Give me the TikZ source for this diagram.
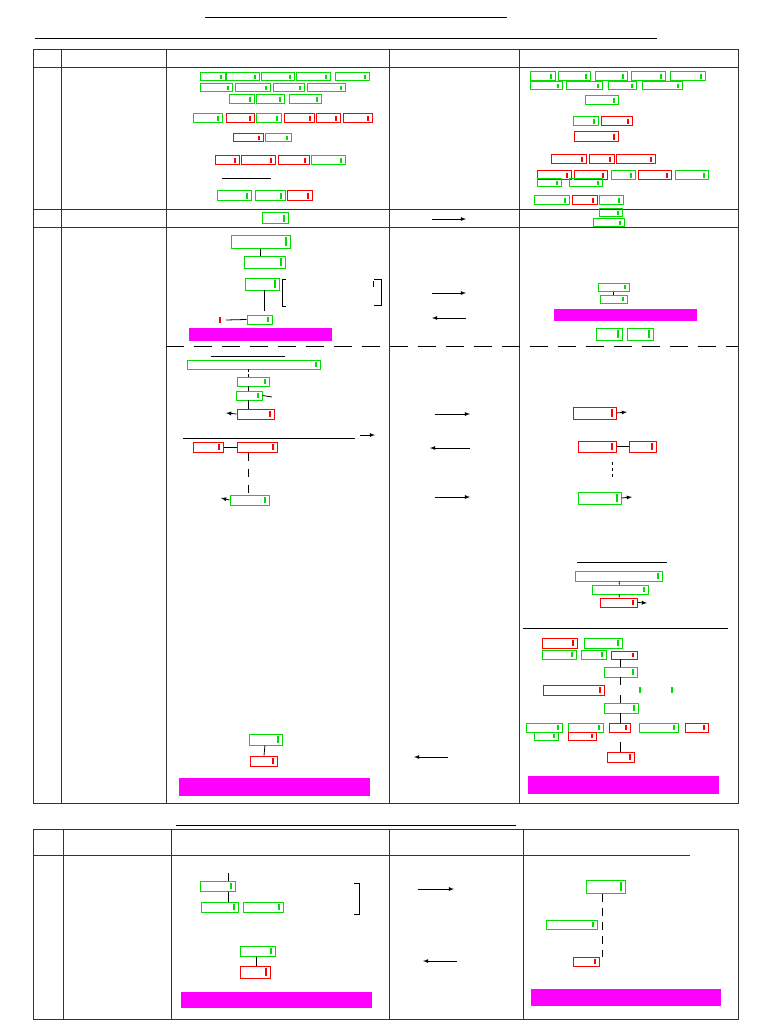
\documentclass[tikz,border=0pt]{standalone}
\definecolor{gcol}{RGB}{0,220,0}
\definecolor{rcol}{RGB}{255,0,0}
\definecolor{mcol}{RGB}{255,0,255}
\begin{document}
\begin{tikzpicture}[x=1pt,y=-1pt,
  gb/.style={draw=gcol,line width=1pt,inner sep=0pt,path picture={\draw[gcol,line width=1.2pt]([xshift=-4pt,yshift=-2pt]path picture bounding box.north east)--([xshift=-4pt,yshift=2pt]path picture bounding box.south east);}},
  rb/.style={draw=rcol,line width=1pt,inner sep=0pt,path picture={\draw[rcol,line width=1.2pt]([xshift=-4pt,yshift=-2pt]path picture bounding box.north east)--([xshift=-4pt,yshift=2pt]path picture bounding box.south east);}},
  mg/.style={fill=mcol,draw=none,inner sep=0pt},
  frame/.style={line width=1pt,black!80},
  con/.style={line width=0.8pt},
  arr/.style={line width=0.8pt,-latex},
  dsh/.style={line width=1pt,dash pattern=on 18pt off 10pt}]
\newcommand\bx[6]{\node[#1,minimum width={(#4-#2)*1pt},minimum height={(#5-#3)*1pt}] (#6) at ({(#2+#4)/2},{(#3+#5)/2}) {};}
\useasboundingbox (0,0) rectangle (768,1024);
% titles
\draw[con] (205,17)--(507,17);
\draw[con] (35,38)--(657,38);
% table 1
\draw[frame] (33,50) rectangle (738,803);
\draw[frame] (33,68)--(738,68);
\draw[frame] (33,210)--(738,210);
\draw[frame] (33,228)--(738,228);
\foreach \x in {61,166,389,519} \draw[frame] (\x,50)--(\x,803);
\draw[dsh] (166,346)--(738,346);
% row 1 col 3
\bx{gb}{200}{73}{225}{81}{a1}\bx{gb}{226}{73}{259}{81}{a2}\bx{gb}{261}{73}{294}{81}{a3}\bx{gb}{296}{73}{330}{81}{a4}\bx{gb}{335}{73}{369}{81}{a5}
\bx{gb}{200}{84}{232}{92}{a6}\bx{gb}{235}{84}{270}{92}{a7}\bx{gb}{273}{84}{304}{92}{a8}\bx{gb}{307}{84}{345}{92}{a9}
\bx{gb}{229}{95}{254}{104}{a10}\bx{gb}{256}{95}{284}{104}{a11}\bx{gb}{289}{95}{321}{104}{a12}
\bx{gb}{193}{114}{222}{123}{a13}\bx{rb}{226}{114}{254}{123}{a14}\bx{gb}{256}{114}{281}{123}{a15}\bx{rb}{284}{114}{314}{123}{a16}\bx{rb}{316}{114}{340}{123}{a17}\bx{rb}{343}{114}{372}{123}{a18}
\bx{rb}{233}{134}{263}{142}{a19}\bx{gb}{265}{134}{291}{142}{a20}
\bx{rb}{215}{156}{239}{165}{a21}\bx{rb}{241}{156}{275}{165}{a22}\bx{rb}{278}{156}{309}{165}{a23}\bx{gb}{311}{156}{345}{165}{a24}
\draw[con] (222,178)--(271,178);
\bx{gb}{217}{191}{251}{201}{a25}\bx{gb}{255}{191}{285}{201}{a26}\bx{rb}{287}{191}{312}{201}{a27}
% row 1 col 5
\bx{gb}{530}{72}{555}{81}{b1}\bx{gb}{558}{72}{590}{81}{b2}\bx{gb}{595}{72}{627}{81}{b3}\bx{gb}{631}{72}{665}{81}{b4}\bx{gb}{670}{72}{705}{81}{b5}
\bx{gb}{530}{82}{562}{90}{b6}\bx{gb}{566}{82}{602}{90}{b7}\bx{gb}{608}{82}{636}{90}{b8}\bx{gb}{642}{82}{682}{90}{b9}
\bx{gb}{585}{96}{618}{105}{b10}
\bx{gb}{573}{117}{598}{126}{b11}\bx{rb}{601}{117}{632}{126}{b12}
\bx{rb}{574}{132}{618}{142}{b13}
\bx{rb}{551}{155}{586}{164}{b14}\bx{rb}{589}{155}{614}{164}{b15}\bx{rb}{616}{155}{655}{164}{b16}
\bx{rb}{537}{171}{571}{180}{b17}\bx{rb}{574}{171}{607}{180}{b18}\bx{gb}{611}{171}{635}{180}{b19}\bx{rb}{638}{171}{671}{180}{b20}\bx{gb}{675}{171}{708}{180}{b21}
\bx{gb}{537}{179}{561}{187}{b22}\bx{gb}{569}{179}{602}{187}{b23}
\bx{gb}{534}{196}{569}{205}{b24}\bx{rb}{572}{196}{597}{205}{b25}\bx{gb}{599}{196}{623}{205}{b26}
% row 2
\bx{gb}{262}{213}{288}{224}{c1}
\coordinate (c2s) at (432,219);\coordinate (c2e) at (466,219);\draw[arr] (c2s)--(c2e);
\bx{gb}{599}{209}{622}{217}{c3}\bx{gb}{593}{219}{624}{227}{c4}
% row 3 upper col 3
\bx{gb}{231}{235}{290}{248}{d1}\bx{gb}{244}{256}{285}{268}{d2}\draw[con](d1)--(d1|-d2.north);
\bx{gb}{245}{278}{279}{290}{d3}
\draw[con] (286,279)--(282,279)--(282,306)--(286,306);
\draw[con] (374,279)--(381,279)--(381,305)--(374,305);
\draw[con] (373,281)--(373,287);
\bx{gb}{247}{315}{272}{324}{d4}
\draw[con] (264,290)--(264,311);
\coordinate (d5) at (226,320);\draw[con] (d4.west)--(d5);
\draw[rcol,line width=1.2pt] (220,317)--(220,323);
\bx{mg}{189}{328}{332}{341}{d6}
\coordinate (e1s) at (432,293);\coordinate (e1e) at (466,293);\draw[arr] (e1s)--(e1e);
\coordinate (e2s) at (466,318);\coordinate (e2e) at (432,318);\draw[arr] (e2s)--(e2e);
\bx{gb}{598}{283}{629}{291}{f1}\bx{gb}{600}{295}{627}{303}{f2}\draw[con](f1)--(f2);
\bx{mg}{554}{309}{697}{321}{f3}
\bx{gb}{596}{328}{622}{340}{f4}\bx{gb}{627}{328}{653}{340}{f5}
% row 3 lower
\draw[con] (211,356)--(285,356);
\bx{gb}{187}{360}{320}{369}{g1}
\bx{gb}{237}{377}{269}{386}{g2}\bx{gb}{236}{391}{262}{400}{g3}\bx{rb}{237}{409}{274}{419}{g4}
\draw[con,densely dashed] (248,369)--(248,377);\draw[con](248,386)--(248,391);\draw[con](248,400)--(248,409);
\coordinate (g3e) at (272,397);\draw[con](g3.east)--(g3e);
\coordinate (g4a) at (226,413);\draw[arr](g4.west)--(g4a);
\draw[con] (183,438)--(355,438);\draw[arr] (360,435)--(375,435);
\bx{rb}{193}{442}{223}{452}{g5}\bx{rb}{237}{442}{277}{452}{g6}\draw[con](g6.west)--(g5.east);
\bx{gb}{230}{495}{269}{505}{g7}\draw[con,dash pattern=on 8pt off 8pt](g6.south-|248,0)--(248,495);
\coordinate (g7a) at (221,498);\draw[arr](g7.west)--(g7a);
\draw[arr] (435,414)--(470,414);\draw[arr] (470,448)--(430,448);\draw[arr] (435,497)--(470,497);
\bx{rb}{573}{407}{616}{419}{h1}\coordinate (h1a) at (627,412);\draw[arr](h1.east)--(h1a);
\bx{rb}{578}{441}{616}{452}{h2}\bx{rb}{629}{441}{656}{452}{h3}\draw[con](h2)--(h3);
\bx{gb}{578}{492}{621}{504}{h4}\draw[con,dashed](612,462)--(612,478);
\coordinate (h4a) at (632,497);\draw[arr](h4.east)--(h4a);
% bottom section
\bx{gb}{249}{734}{282}{745}{k1}\bx{rb}{250}{756}{277}{766}{k2}\draw[con](k1)--(k2);
\bx{mg}{179}{778}{370}{796}{k3}
\draw[arr] (448,757)--(414,757);
\draw[con] (577,562)--(667,562);
\bx{gb}{575}{571}{662}{581}{m1}\bx{gb}{592}{585}{648}{594}{m2}\bx{rb}{600}{598}{637}{607}{m3}
\draw[con](m1)--(m2);\draw[con](m2)--(m3);\coordinate(m3a) at (647,603);\draw[arr](m3.east)--(m3a);
\draw[con] (523,628)--(728,628);
\bx{rb}{542}{638}{577}{648}{n1}\bx{gb}{584}{638}{622}{648}{n2}
\bx{gb}{542}{650}{576}{659}{n3}\bx{gb}{581}{650}{606}{659}{n4}\bx{rb}{611}{651}{637}{659}{n5}
\bx{gb}{604}{667}{637}{677}{n6}\draw[con](620,659)--(620,667);
\bx{rb}{543}{685}{604}{695}{n7}\draw[con](620,677)--(620,685);
\draw[gcol,line width=1.2pt](640,687)--(640,693);\draw[gcol,line width=1.2pt](672,687)--(672,693);
\bx{gb}{604}{703}{638}{713}{n8}\draw[con](620,695)--(620,703);
\bx{gb}{526}{723}{562}{732}{n9}\bx{gb}{568}{723}{603}{732}{n10}\bx{rb}{609}{723}{630}{732}{n11}\bx{gb}{639}{723}{678}{732}{n12}\bx{rb}{685}{723}{708}{732}{n13}
\bx{gb}{534}{732}{558}{740}{n14}\bx{rb}{568}{732}{596}{740}{n15}
\draw[con](620,713)--(620,723);
\bx{rb}{607}{752}{634}{762}{n16}\draw[con](620,742)--(620,752);
\bx{mg}{528}{776}{719}{794}{n17}
% table 2
\draw[con] (176,825)--(516,825);
\draw[frame] (33,829) rectangle (738,1019);
\draw[frame] (33,855)--(389,855);\draw[frame](389,855)--(690,855);
\foreach \x in {63,171,389,523} \draw[frame] (\x,829)--(\x,1019);
\bx{gb}{200}{881}{235}{891}{p1}\draw[con](228,873)--(228,881);
\bx{gb}{201}{902}{238}{912}{p2}\bx{gb}{243}{902}{283}{912}{p3}\draw[con](p1.south-|228,0)--(228,902);
\draw[con](354,883)--(359,883)--(359,914)--(354,914);
\bx{gb}{240}{946}{275}{956}{p4}\bx{rb}{240}{966}{270}{978}{p5}\draw[con](p4.south-|256,0)--(256,966);
\bx{mg}{181}{992}{372}{1008}{p6}
\draw[arr](418,889)--(454,889);\draw[arr](457,961)--(423,961);
\bx{gb}{586}{880}{625}{893}{q1}\bx{gb}{546}{920}{597}{929}{q2}\bx{rb}{573}{957}{599}{966}{q3}
\draw[con,dash pattern=on 8pt off 6pt](602,894)--(602,957);
\bx{mg}{531}{989}{721}{1006}{q4}
\end{tikzpicture}
\end{document}
